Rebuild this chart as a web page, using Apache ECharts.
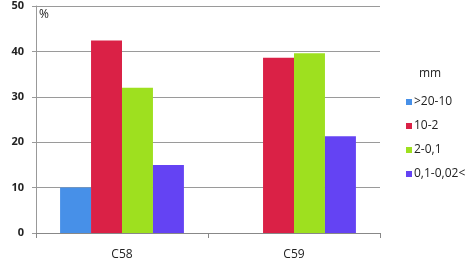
<!DOCTYPE html>
<html>
<head>
<meta charset="utf-8">
<script src="https://cdn.jsdelivr.net/npm/echarts@6/dist/echarts.min.js"></script>
<style>html,body{margin:0;padding:0;background:#fff}#c{width:474px;height:279px}</style>
</head>
<body>
<div id="c"></div>
<script>
const categories = ['C58', 'C59'];
const seriesNames = ['>20-10', '10-2', '2-0,1', '0,1-0,02<'];
const s1 = [10, 0];
const s2 = [42.4, 38.6];
const s3 = [32, 39.6];
const s4 = [15, 21.3];
const yTicks = [0, 10, 20, 30, 40, 50];
const colors = ['#4790E8', '#DA2146', '#9EE01F', '#6443F3'];

const chart = echarts.init(document.getElementById('c'));
const values = [s1, s2, s3, s4];
chart.setOption({
  animation: false,
  color: colors,
  textStyle: { fontFamily: 'Open Sans' },
  grid: { left: 36, right: 94, top: 6, bottom: 46 },
  title: { text: 'mm', left: 414, top: 63, textStyle: { fontSize: 12, fontWeight: 'normal', color: '#222', fontFamily: 'Open Sans' } },
  graphic: [{ type: 'text', left: 39, top: 9, style: { text: '%', fontSize: 12, fill: '#222', fontFamily: 'Open Sans' } }],
  legend: {
    orient: 'vertical', left: 401, top: 91, itemWidth: 6, itemHeight: 6, itemGap: 12,
    icon: 'rect', textStyle: { fontSize: 12, color: '#222', padding: [0, 0, 0, -3] },
    data: seriesNames
  },
  xAxis: {
    type: 'category', data: categories,
    axisLine: { lineStyle: { color: '#888', width: 1 } },
    axisTick: { show: true, length: 5, lineStyle: { color: '#888' } },
    axisLabel: { fontSize: 12, color: '#222', margin: 16 }
  },
  yAxis: {
    type: 'value', min: 0, max: 50, interval: 10,
    axisLine: { show: true, lineStyle: { color: '#999' } },
    axisTick: { show: true, length: 4, lineStyle: { color: '#999' } },
    axisLabel: { fontSize: 11, color: '#222', fontWeight: 'bold', margin: 12,
      formatter: v => yTicks.includes(v) ? String(v) : '' },
    splitLine: { lineStyle: { color: '#9a9a9a', width: 1 } }
  },
  series: seriesNames.map((n, i) => ({
    name: n, type: 'bar', data: values[i], barGap: '0%', barCategoryGap: '28%'
  }))
});
</script>
</body>
</html>
